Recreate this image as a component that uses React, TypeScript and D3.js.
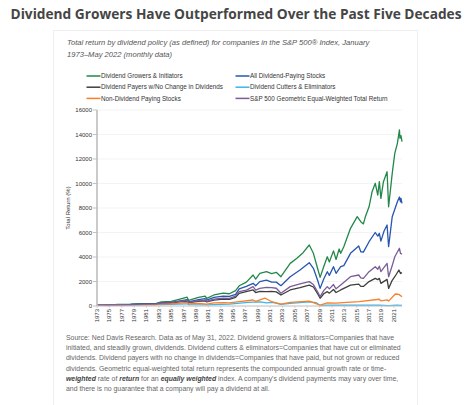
import * as d3 from 'd3';

// ---- data (total return %) ----
const growersDates = ['1973-01', '1974-09', '1976-06', '1978-06', '1980-06', '1982-08', '1983-06', '1985-01', '1986-06', '1987-08', '1987-11', '1989-06', '1990-07', '1990-10', '1991-12', '1993-06', '1994-06', '1995-06', '1996-01', '1997-03', '1998-04', '1998-09', '1999-05', '2000-06', '2001-04', '2002-01', '2002-10', '2004-04', '2005-05', '2006-05', '2007-05', '2008-01', '2008-10', '2009-02', '2009-09', '2010-04', '2010-08', '2011-04', '2011-09', '2012-03', '2012-06', '2012-12', '2014-01', '2015-02', '2015-09', '2016-02', '2016-06', '2017-01', '2017-07', '2018-01', '2018-06', '2018-09', '2018-12', '2019-05', '2019-12', '2020-03', '2020-10', '2021-03', '2021-08', '2021-12', '2022-01', '2022-03', '2022-05'];
const growersValues = [100, 60, 130, 150, 200, 210, 330, 380, 560, 720, 450, 700, 800, 620, 900, 1050, 1000, 1250, 1650, 1950, 2530, 2200, 2670, 2800, 2650, 2750, 2390, 3480, 3890, 4350, 4980, 4300, 2940, 2340, 3210, 4020, 3600, 4500, 3800, 4650, 4300, 4840, 6340, 7290, 6880, 6700, 7300, 8100, 9330, 10020, 9060, 10150, 8790, 10150, 10960, 8100, 10830, 12460, 13280, 14370, 13690, 13900, 13410];

const allPayersDates = ['1973-01', '1974-09', '1976-06', '1978-06', '1980-06', '1982-08', '1983-06', '1985-01', '1986-06', '1987-08', '1987-11', '1989-06', '1990-07', '1990-10', '1991-12', '1993-06', '1994-06', '1995-06', '1996-01', '1997-03', '1998-04', '1998-09', '1999-05', '2000-06', '2001-04', '2002-01', '2002-10', '2004-04', '2005-11', '2007-05', '2008-01', '2008-10', '2009-02', '2009-09', '2010-04', '2010-08', '2011-04', '2011-09', '2012-06', '2012-12', '2014-01', '2015-05', '2015-09', '2016-02', '2017-01', '2018-01', '2018-06', '2018-09', '2018-12', '2019-06', '2019-12', '2020-03', '2020-10', '2021-08', '2021-12', '2022-02', '2022-03', '2022-05'];
const allPayersValues = [100, 60, 120, 130, 170, 180, 260, 300, 420, 520, 340, 520, 600, 480, 700, 800, 780, 950, 1400, 1600, 1850, 1650, 1990, 2120, 1950, 1950, 1660, 2390, 2940, 3540, 3080, 2000, 1440, 2200, 2800, 2500, 3210, 2670, 3210, 3300, 4300, 4900, 4430, 4400, 5250, 6000, 5700, 5930, 5300, 6100, 6610, 4840, 7290, 8510, 8900, 8500, 8790, 8380];

const noChangeDates = ['1973-01', '1974-09', '1978-06', '1980-06', '1982-08', '1983-06', '1985-01', '1986-06', '1987-08', '1987-11', '1989-06', '1990-07', '1990-10', '1991-12', '1993-06', '1994-06', '1995-06', '1996-01', '1998-04', '1998-09', '1999-05', '2000-06', '2001-04', '2002-01', '2002-10', '2004-04', '2005-11', '2007-05', '2008-01', '2008-10', '2009-02', '2009-09', '2010-04', '2010-08', '2011-04', '2011-09', '2012-06', '2014-01', '2015-05', '2015-09', '2016-02', '2017-01', '2018-01', '2018-06', '2018-09', '2018-12', '2019-12', '2020-03', '2020-10', '2021-03', '2021-11', '2022-02', '2022-05'];
const noChangeValues = [100, 60, 110, 140, 150, 210, 250, 330, 400, 270, 380, 420, 340, 480, 560, 540, 700, 1040, 1310, 1100, 1200, 1170, 1200, 1150, 900, 1310, 1500, 1710, 1550, 950, 630, 1000, 1170, 1050, 1350, 1100, 1310, 1710, 1790, 1600, 1600, 1990, 2260, 2150, 2260, 1850, 2170, 1440, 2100, 2390, 2940, 2650, 2720];

const cuttersDates = ['1973-01', '1974-09', '1980-06', '1983-06', '1987-08', '1987-11', '1990-10', '1994-06', '1997-06', '1999-06', '2000-06', '2001-06', '2002-10', '2004-04', '2007-05', '2008-06', '2009-02', '2010-04', '2013-06', '2018-09', '2020-03', '2021-06', '2022-05'];
const cuttersValues = [100, 50, 90, 120, 180, 110, 90, 150, 300, 330, 260, 300, 130, 220, 330, 280, 40, 70, 60, 70, 30, 70, 50];

const nonPayersDates = ['1973-01', '1974-09', '1976-06', '1980-06', '1982-08', '1983-06', '1985-01', '1987-08', '1987-11', '1989-06', '1990-10', '1991-12', '1993-06', '1994-06', '1996-01', '1998-04', '1998-09', '2000-03', '2001-04', '2002-10', '2004-04', '2007-05', '2009-02', '2010-04', '2011-09', '2013-06', '2015-06', '2018-09', '2018-12', '2019-12', '2020-03', '2021-04', '2021-11', '2022-05'];
const nonPayersValues = [100, 40, 90, 120, 110, 200, 180, 300, 170, 220, 150, 250, 280, 260, 350, 490, 380, 650, 350, 160, 300, 400, 80, 250, 230, 300, 350, 550, 420, 500, 400, 980, 950, 760];

const equalWeightDates = ['1973-01', '1974-09', '1978-06', '1980-06', '1982-08', '1983-06', '1985-01', '1986-06', '1987-08', '1987-11', '1989-06', '1990-07', '1990-10', '1991-12', '1993-06', '1994-06', '1995-06', '1996-01', '1997-03', '1998-04', '1998-09', '1999-05', '2000-06', '2001-04', '2002-01', '2002-10', '2004-04', '2005-11', '2007-05', '2008-01', '2008-10', '2009-02', '2009-09', '2010-04', '2010-08', '2011-04', '2011-09', '2012-06', '2014-01', '2015-05', '2015-09', '2016-02', '2017-01', '2018-01', '2018-06', '2018-09', '2018-12', '2019-12', '2020-03', '2020-10', '2021-03', '2021-12', '2022-02', '2022-05'];
const equalWeightValues = [100, 60, 120, 150, 170, 240, 280, 380, 450, 300, 430, 480, 380, 560, 650, 620, 800, 1170, 1300, 1580, 1300, 1440, 1520, 1500, 1450, 1040, 1580, 1800, 1990, 1750, 1100, 760, 1250, 1580, 1400, 1750, 1400, 1710, 2390, 2530, 2300, 2250, 2800, 3210, 3000, 3250, 2800, 3480, 2390, 3300, 4020, 4710, 4300, 4240];

const seriesNames = [
  'Dividend Growers & Initiators',
  'All Dividend-Paying Stocks',
  'Dividend Payers w/No Change in Dividends',
  'Dividend Cutters & Eliminators',
  'Non-Dividend Paying Stocks',
  'S&P 500 Geometric Equal-Weighted Total Return',
];
const seriesColors = ['#23874a', '#2856b0', '#3f3f3f', '#3bb6ea', '#f6802c', '#7b5b98'];
const seriesDates = [growersDates, allPayersDates, noChangeDates, cuttersDates, nonPayersDates, equalWeightDates];
const seriesValues = [growersValues, allPayersValues, noChangeValues, cuttersValues, nonPayersValues, equalWeightValues];

const yTicks = [0, 2000, 4000, 6000, 8000, 10000, 12000, 14000, 16000];
const xTickYears = d3.range(1973, 2022, 2);

const sourceLines = [
  'Source: Ned Davis Research. Data as of May 31, 2022. Dividend growers & initiators=Companies that have',
  'initiated, and steadily grown, dividends. Dividend cutters & eliminators=Companies that have cut or eliminated',
  'dividends. Dividend payers with no change in dividends=Companies that have paid, but not grown or reduced',
  'dividends. Geometric equal-weighted total return represents the compounded annual growth rate or time-',
];

const parseMonth = d3.timeParse('%Y-%m');

export default function App() {
  const width = 471;
  const height = 405;
  const plot = { left: 97, right: 402, top: 110, bottom: 306 };

  const x = d3.scaleTime()
    .domain([parseMonth('1973-01') as Date, parseMonth('2022-05') as Date])
    .range([plot.left, plot.right]);
  const y = d3.scaleLinear().domain([0, 16000]).range([plot.bottom, plot.top]);

  const line = d3.line<[Date, number]>()
    .x((d) => x(d[0]))
    .y((d) => y(d[1]))
    .curve(d3.curveLinear);

  const chartFont = '"Liberation Sans", Arial, sans-serif';

  return (
    <svg width={width} height={height} style={{ position: 'absolute', left: 0, top: 0, background: '#fff' }}>
      {/* card */}
      <rect x={53.5} y={30.5} width={364} height={380} fill="#fff" stroke="#efefef" />

      <text x={236} y={19} textAnchor="middle" fontFamily='"Open Sans", sans-serif' fontWeight={700}
        fontSize={13.5} fill="#454545" textLength={451} lengthAdjust="spacingAndGlyphs">
        Dividend Growers Have Outperformed Over the Past Five Decades
      </text>

      <g fontFamily={chartFont} fontStyle="italic" fontSize={7.6} fill="#555">
        <text x={67} y={45}>Total return by dividend policy (as defined) for companies in the S&amp;P 500® Index, January</text>
        <text x={67} y={57}>1973–May 2022 (monthly data)</text>
      </g>

      {/* legend */}
      <g fontFamily={chartFont} fontSize={6.3} fill="#333">
        {seriesNames.map((name, i) => {
          const col = i % 2;
          const row = Math.floor(i / 2);
          const lx = col === 0 ? 86.5 : 235.5;
          const ly = 76 + row * 11.2;
          return (
            <g key={name}>
              <line x1={lx} x2={lx + 14} y1={ly} y2={ly} stroke={seriesColors[i]} strokeWidth={1.5} />
              <text x={lx + 14.5} y={ly + 2.2}>{name}</text>
            </g>
          );
        })}
      </g>

      {/* grid + y axis */}
      <g fontFamily={chartFont} fontSize={6} fill="#333">
        {yTicks.map((t) => (
          <g key={t}>
            <line x1={plot.left} x2={plot.right} y1={y(t)} y2={y(t)} stroke="#f0f0f0" strokeWidth={0.8} />
            <line x1={plot.left - 4} x2={plot.left} y1={y(t)} y2={y(t)} stroke="#999" strokeWidth={0.6} />
            <text x={plot.left - 5} y={y(t) + 2} textAnchor="end">{t}</text>
          </g>
        ))}
        <text transform={`translate(70,208) rotate(-90)`} textAnchor="middle">Total Return (%)</text>
      </g>

      {/* series */}
      <g fill="none" strokeLinejoin="round">
        {seriesDates.map((dates, i) => {
          const pts: [Date, number][] = dates.map((d, j) => [parseMonth(d) as Date, seriesValues[i][j]]);
          return <path key={i} d={line(pts) ?? ''} stroke={seriesColors[i]} strokeWidth={1.3} />;
        })}
      </g>

      <line x1={plot.left} x2={plot.left} y1={plot.top} y2={plot.bottom} stroke="#bdbdbd" strokeWidth={1.6} />
      <line x1={plot.left} x2={plot.right} y1={plot.bottom} y2={plot.bottom} stroke="#c4c4c4" strokeWidth={1} />

      {/* x axis labels */}
      <g fontFamily={chartFont} fontSize={6} fill="#333">
        {xTickYears.map((yr) => {
          const tx = x(new Date(yr, 0, 1));
          return (
            <g key={yr}>
              <line x1={tx} x2={tx} y1={plot.bottom} y2={plot.bottom + 2} stroke="#bbb" strokeWidth={0.5} />
              <text transform={`translate(${tx + 2},${plot.bottom + 3}) rotate(-90)`} textAnchor="end">{yr}</text>
            </g>
          );
        })}
      </g>

      {/* source note */}
      <g fontFamily={chartFont} fontSize={6.9} fill="#666">
        {sourceLines.map((s, i) => (
          <text key={i} x={66} y={340 + i * 10.2}>{s}</text>
        ))}
        <text x={66} y={340 + 4 * 10.2}>
          <tspan fontWeight={700} fontStyle="italic" fill="#444">weighted</tspan>
          <tspan> rate of </tspan>
          <tspan fontWeight={700} fontStyle="italic" fill="#444">return</tspan>
          <tspan> for an </tspan>
          <tspan fontWeight={700} fontStyle="italic" fill="#444">equally weighted</tspan>
          <tspan> index.  A company's dividend payments may vary over time,</tspan>
        </text>
        <text x={66} y={340 + 5 * 10.2}>and there is no guarantee that a company will pay a dividend at all.</text>
      </g>
    </svg>
  );
}
